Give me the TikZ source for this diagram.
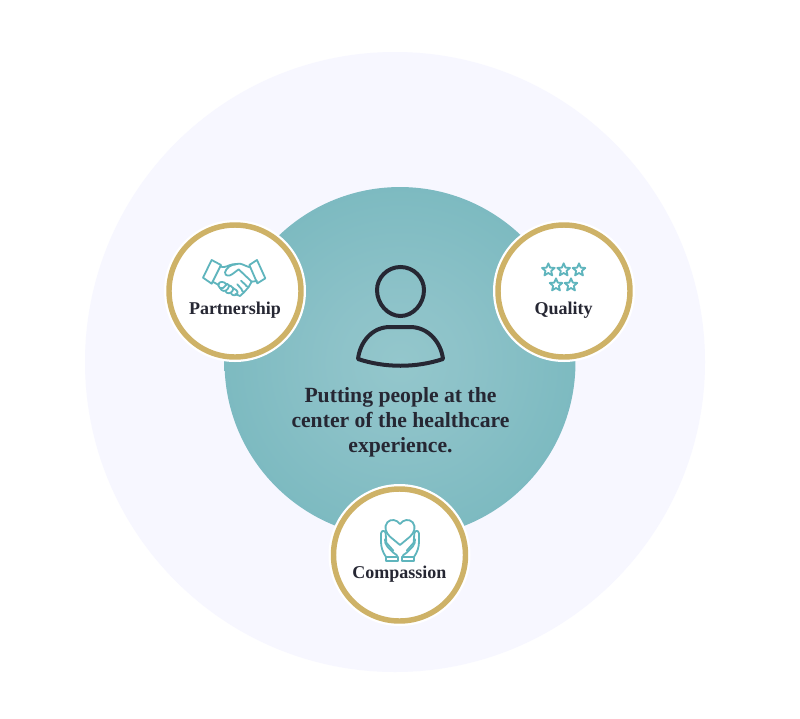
\documentclass[tikz,border=0pt]{standalone}
\usepackage{fontspec}
\setmainfont{Liberation Serif}
\definecolor{halo}{HTML}{F7F7FF}
\definecolor{gold}{HTML}{CEB267}
\definecolor{ink}{HTML}{262733}
\definecolor{icon}{HTML}{5FB5BD}
\pgfdeclareradialshading{tealglow}{\pgfpoint{0bp}{0bp}}{rgb(0bp)=(0.58,0.78,0.80); rgb(10bp)=(0.55,0.76,0.785); rgb(25bp)=(0.49,0.73,0.755); rgb(38bp)=(0.46,0.715,0.745); rgb(50bp)=(0.46,0.715,0.745)}
\tikzset{
  x=0.75pt,y=-0.75pt,
  badge/.style={circle,draw=gold,fill=white,line width=4.1pt,minimum size=99pt,inner sep=0pt,outer sep=0pt},
  halo ring/.style={circle,fill=white,minimum size=106.5pt,inner sep=0pt},
  lbl/.style={anchor=base,text=ink,inner sep=0pt,font=\bfseries\fontsize{13.5pt}{16pt}\selectfont},
  head/.style={anchor=base,text=ink,inner sep=0pt,font=\bfseries\fontsize{16.25pt}{18pt}\selectfont},
  iconline/.style={draw=icon,line width=1.35pt,line join=round,line cap=round},
  zoomA/.style={shift={(160,215)},x=0.25pt,y=-0.25pt},
  zoomB/.style={shift={(490,215)},x=0.25pt,y=-0.25pt},
  zoomC/.style={shift={(325,480)},x=0.25pt,y=-0.25pt},
}
\begin{document}
\begin{tikzpicture}
\useasboundingbox (0,0) rectangle (800,718);
\fill[white] (0,0) rectangle (800,718);
\fill[halo] (395,362) circle[radius=232.5pt];
\shade[shading=tealglow] (400,362.5) circle[radius=131.6pt];

\node[halo ring] at (235,291) {};
\node[halo ring] at (564,291) {};
\node[halo ring] at (399.5,555) {};
\node[badge] (partner) at (235,291) {};
\node[badge] (quality) at (564,291) {};
\node[badge] (compass) at (399.5,555) {};

% person
\draw[ink,line width=3pt] (400.5,267) .. controls (414,267) and (424,278) .. (424,290)
  .. controls (424,304) and (413,316) .. (400.5,316)
  .. controls (388,316) and (377,304) .. (377,290)
  .. controls (377,278) and (387,267) .. (400.5,267) -- cycle;
\draw[ink,line width=3pt,line join=round] (358,359) .. controls (385,368) and (416,368) .. (443,359)
  .. controls (441,342) and (428,327) .. (410,327) -- (390,327)
  .. controls (372,327) and (360,342) .. (358,359) -- cycle;

% handshake
\begin{scope}[zoomA]
\draw[iconline] (155,135) -- (183,150) -- (155,206) -- (129,188) -- cycle;
\draw[iconline] (268,150) -- (291,135) -- (316,190) -- (292,205) -- cycle;
\draw[iconline] (181,155) .. controls (195,160) and (205,150) .. (218,148) -- (240,146)
  .. controls (250,148) and (260,155) .. (271,157);
\draw[iconline] (228,148) .. controls (212,148) and (198,160) .. (195,172)
  .. controls (195,184) and (208,184) .. (216,178) -- (236,163) -- (275,200);
\draw[iconline] (158,200) -- (176,210);
\draw[iconline] (291,198) -- (275,200) -- (266,216) -- (258,213);
\draw[iconline] (266,216) -- (252,232) -- (245,226);
\draw[iconline] (252,232) -- (240,243) -- (226,237);
\draw[iconline] (178,203) .. controls (173,208) and (174,216) .. (180,219) .. controls (186,223) and (194,217) .. (198,210) .. controls (200,204) and (186,197) .. (178,203) -- cycle;
\draw[iconline] (180,219) .. controls (184,228) and (196,232) .. (203,222) -- (208,212) .. controls (204,205) and (198,205) .. (198,210);
\draw[iconline] (196,229) .. controls (202,238) and (213,236) .. (218,227) -- (220,220) .. controls (216,212) and (209,212) .. (208,212);
\draw[iconline] (213,235) .. controls (218,243) and (228,243) .. (232,235) .. controls (235,228) and (226,222) .. (220,220);
\draw[iconline] (232,208) -- (246,224);
\draw[iconline] (243,197) -- (259,212);
\end{scope}

% stars
\begin{scope}[zoomB]
\foreach \cx/\cy in {175/165,221/165,267/165,198/210,243/210}{
  \draw[iconline] (\cx+0,\cy-20)
    \foreach \k in {1,...,9}{
      -- ({\cx+(mod(\k,2)==1 ? 9 : 20)*sin(36*\k)},{\cy-(mod(\k,2)==1 ? 9 : 20)*cos(36*\k)})
    } -- cycle;
}
\end{scope}

% hands and heart
\begin{scope}[zoomC]
\draw[iconline] (225,132) .. controls (215,118) and (197,116) .. (187,127)
  .. controls (176,140) and (182,158) .. (195,170) -- (225,195) -- (255,170)
  .. controls (268,158) and (274,140) .. (263,127)
  .. controls (253,116) and (235,118) .. (225,132) -- cycle;
\foreach \m/\o in {1/0,-1/450}{
  \begin{scope}[shift={(\o,0)},xscale=\m]
  \draw[iconline] (183,231) .. controls (172,215) and (168,200) .. (168,185) -- (168,160)
    .. controls (170,150) and (180,150) .. (182,160) -- (184,188) -- (205,212);
  \draw[iconline] (180,178) .. controls (178,195) and (192,205) .. (205,218)
    .. controls (214,222) and (218,228) .. (218,232);
  \draw[iconline] (183,232) -- (218,232) -- (218,242) -- (183,242) -- cycle;
  \end{scope}
}
\end{scope}

\node[lbl] (tpartner) at (235,314) {Partnership};
\node[lbl] (tquality) at (563.5,314) {Quality};
\node[lbl] (tcompass) at (399.5,578.5) {Compassion};
\node[head] (l1) at (400.5,402.5) {Putting people at the};
\node[head] (l2) at (400.5,427.5) {center of the healthcare};
\node[head] (l3) at (400.5,452.5) {experience.};
\end{tikzpicture}
\end{document}
